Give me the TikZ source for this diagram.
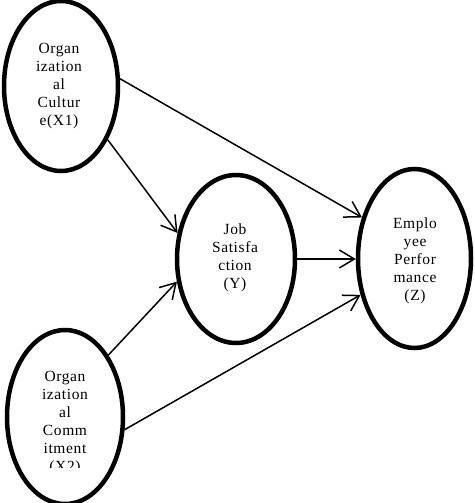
\documentclass[tikz,border=0pt]{standalone}
\usepackage{fontspec}
\setmainfont[LetterSpace=4]{Liberation Serif}
\usetikzlibrary{shapes.geometric,arrows.meta}
\tikzset{
  var/.style={ellipse, draw, line width=4.5pt, inner sep=0pt},
  lbl/.style={align=center, font=\fontsize{15.5}{18}\selectfont, inner sep=0pt},
  link/.style={line width=1.5pt, -{Straight Barb[length=15pt,width=18pt,line width=1.5pt]}}
}
\begin{document}
\begin{tikzpicture}[x=1pt,y=-1pt]
\useasboundingbox (0,0) rectangle (474,503);
\clip (0,0) rectangle (474,503);
\node[var, minimum width=114pt, minimum height=170pt] (x1) at (61,86) {};
\node[var, minimum width=118pt, minimum height=168pt] (y) at (236,259) {};
\node[var, minimum width=113pt, minimum height=179pt] (z) at (414.5,258.5) {};
\node[var, minimum width=116pt, minimum height=174pt] (x2) at (65,417) {};
\node[lbl] (x1t) at (59,86) {Organ\\ization\\al\\Cultur\\e(X1)};
\node[lbl] (yt) at (235,258) {Job\\Satisfa\\ction\\(Y)};
\node[lbl] (zt) at (415,261) {Emplo\\yee\\Perfor\\mance\\(Z)};
\begin{scope}
\clip (0,300) rectangle (200,467);
\node[lbl] (x2t) at (65,423.5) {Organ\\ization\\al\\Comm\\itment\\(X2)};
\end{scope}
\draw[link] (x1.-49) -- (y.156);
\draw[link] (x1.7.6) -- (z.142);
\draw[link] (y.east) -- (y.east -| z.west);
\draw[link] (x2.55) -- (y.-159);
\draw[link] (x2.-12) -- (z.-146);
\end{tikzpicture}
\end{document}
